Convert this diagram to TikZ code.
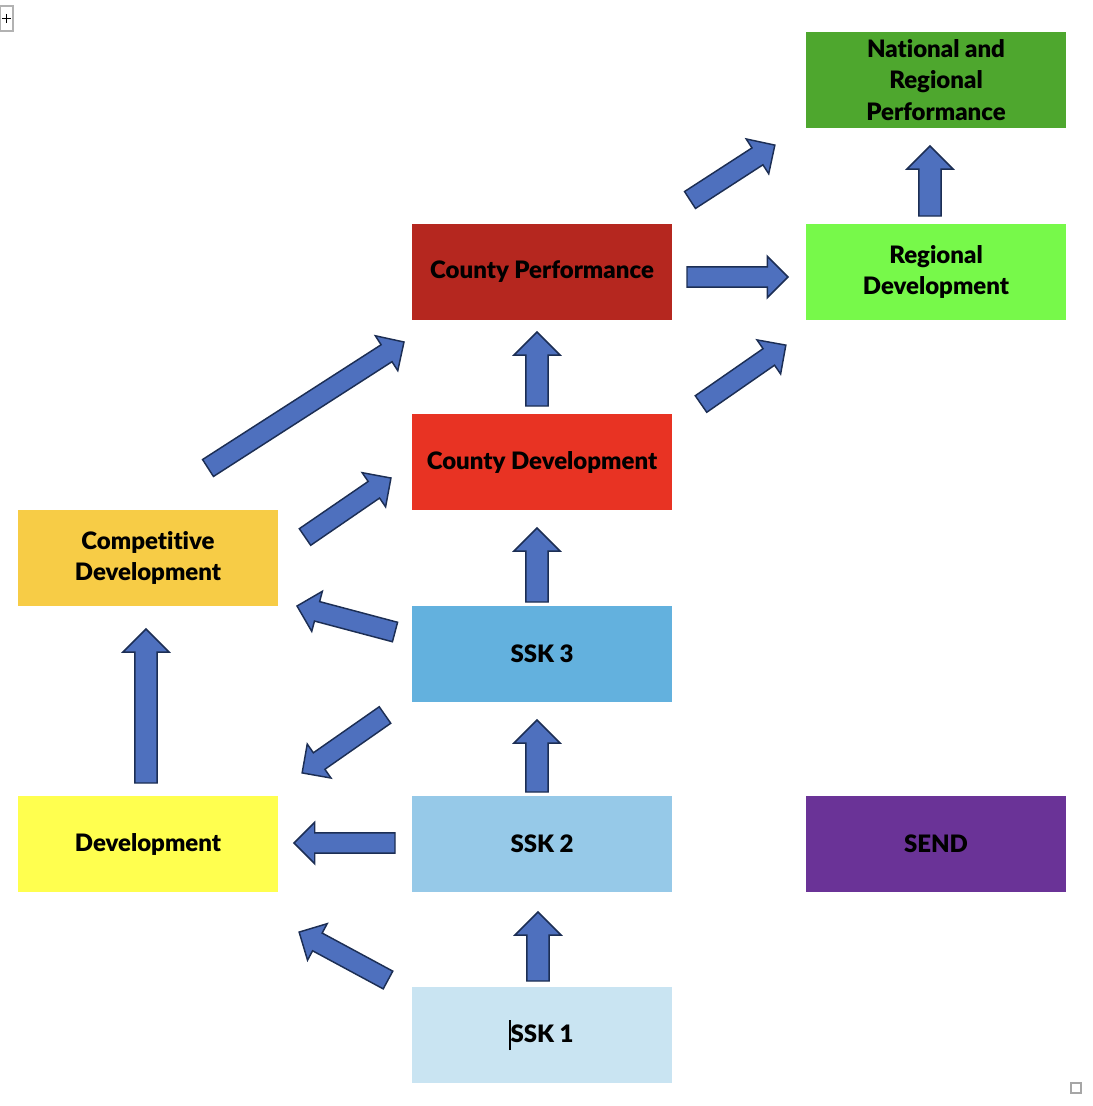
\documentclass[tikz,border=0pt]{standalone}
\usepackage{fontspec}
\setmainfont{Lato}[BoldFont={Lato Black}, Ligatures=NoCommon]
\usetikzlibrary{
    positioning,
    calc,
    shapes.arrows
}
\definecolor{natgreen}{HTML}{4EA72E}
\definecolor{reggreen}{HTML}{77F94A}
\definecolor{cperfred}{HTML}{B5271F}
\definecolor{cdevred}{HTML}{E83323}
\definecolor{compyellow}{HTML}{F7CC46}
\definecolor{devyellow}{HTML}{FFFF4F}
\definecolor{sskthree}{HTML}{63B1DE}
\definecolor{ssktwo}{HTML}{96C9E8}
\definecolor{sskone}{HTML}{C9E4F2}
\definecolor{sendpurple}{HTML}{6A3397}
\definecolor{arrowblue}{HTML}{4E70BE}
\definecolor{arrowline}{HTML}{1C2E54}
\tikzset{
    level/.style={
        minimum width=195pt,
        minimum height=72pt,
        inner sep=2pt,
        align=center,
        font=\fontsize{18}{23.6}\selectfont\bfseries
    },
    barrow/.style={
        single arrow,
        draw=arrowline,
        fill=arrowblue,
        line width=1.1pt,
        inner xsep=0pt,
        inner ysep=7pt,
        outer sep=0pt,
        anchor=tail,
        single arrow head extend=8pt,
        single arrow head indent=0pt
    },
    barrow wide/.style={
        inner ysep=7.75pt,
        single arrow head extend=9pt
    }
}
\newcommand{\blockarrow}[3][]{%
    \path let \p1=($(#3)-(#2)$), \n1={atan2(\y1,\x1)}, \n2={veclen(\x1,\y1)} in
        node[barrow, #1, rotate=\n1, minimum height=\n2] at (#2) {};}

\begin{document}
\begin{tikzpicture}[
    x=0.75pt,
    y=-0.75pt
]
    \useasboundingbox (0,0) rectangle (1092,1106);

    % Levels
    \node[level, fill=natgreen]   (natl)    at (936,80)   {National and\\Regional\\Performance};
    \node[level, fill=reggreen]   (regdev)  at (936,272)  {Regional\\Development};
    \node[level, fill=cperfred]   (cperf)   at (542,272)  {County Performance};
    \node[level, fill=cdevred]    (cdev)    at (542,462)  {County Development};
    \node[level, fill=compyellow] (compdev) at (148,558)  {Competitive\\Development};
    \node[level, fill=sskthree]   (ssk3)    at (542,654)  {SSK 3};
    \node[level, fill=devyellow]  (dev)     at (148,844)  {Development};
    \node[level, fill=ssktwo]     (ssk2)    at (542,844)  {SSK 2};
    \node[level, fill=sendpurple] (send)    at (936,844)  {SEND};
    \node[level, fill=sskone]     (ssk1)    at (542,1035) {\llap{\rule[-0.3em]{0.8pt}{1.25em}}SSK 1};

    % Arrow ends
    \coordinate (ssk1-up-t)   at (538,981);  \coordinate (ssk1-up-h)   at (538,912);
    \coordinate (ssk2-up-t)   at (537,792);  \coordinate (ssk2-up-h)   at (537,720);
    \coordinate (ssk3-up-t)   at (537,602);  \coordinate (ssk3-up-h)   at (537,528);
    \coordinate (cdev-up-t)   at (537,406);  \coordinate (cdev-up-h)   at (537,332);
    \coordinate (regdev-up-t) at (930,216);  \coordinate (regdev-up-h) at (930,146);
    \coordinate (dev-up-t)    at (146,783);  \coordinate (dev-up-h)    at (146,629);
    \coordinate (ssk2-dev-t)  at (395,843);  \coordinate (ssk2-dev-h)  at (294,843);
    \coordinate (ssk1-dev-t)  at (388,980);  \coordinate (ssk1-dev-h)  at (299,932);
    \coordinate (ssk3-dev-t)  at (385,715);  \coordinate (ssk3-dev-h)  at (302,773);
    \coordinate (ssk3-comp-t) at (395,632);  \coordinate (ssk3-comp-h) at (297,606);
    \coordinate (comp-cdev-t) at (305,537);  \coordinate (comp-cdev-h) at (391,478);
    \coordinate (comp-cperf-t) at (208,468); \coordinate (comp-cperf-h) at (404,342);
    \coordinate (cperf-reg-t) at (687,277);  \coordinate (cperf-reg-h) at (788,277);
    \coordinate (cdev-reg-t)  at (701,404);  \coordinate (cdev-reg-h)  at (786,345);
    \coordinate (cperf-nat-t) at (690,200);  \coordinate (cperf-nat-h) at (775,145);

    % Arrows
    \blockarrow[barrow wide]{ssk1-up-t}{ssk1-up-h}
    \blockarrow[barrow wide]{ssk2-up-t}{ssk2-up-h}
    \blockarrow[barrow wide]{ssk3-up-t}{ssk3-up-h}
    \blockarrow[barrow wide]{cdev-up-t}{cdev-up-h}
    \blockarrow[barrow wide]{regdev-up-t}{regdev-up-h}
    \blockarrow[barrow wide]{dev-up-t}{dev-up-h}
    \blockarrow{ssk2-dev-t}{ssk2-dev-h}
    \blockarrow{ssk1-dev-t}{ssk1-dev-h}
    \blockarrow{ssk3-dev-t}{ssk3-dev-h}
    \blockarrow{ssk3-comp-t}{ssk3-comp-h}
    \blockarrow{comp-cdev-t}{comp-cdev-h}
    \blockarrow{comp-cperf-t}{comp-cperf-h}
    \blockarrow{cperf-reg-t}{cperf-reg-h}
    \blockarrow{cdev-reg-t}{cdev-reg-h}
    \blockarrow{cperf-nat-t}{cperf-nat-h}

    % Handles
    \draw[gray!60, line width=0.8pt] (0.5,6) rectangle (13,31);
    \draw[line width=0.6pt] (2,18.5) -- (11,18.5) (6.5,14) -- (6.5,23);
    \draw[gray!70, line width=0.8pt] (1071,1083) rectangle (1081,1093);

\end{tikzpicture}
\end{document}
